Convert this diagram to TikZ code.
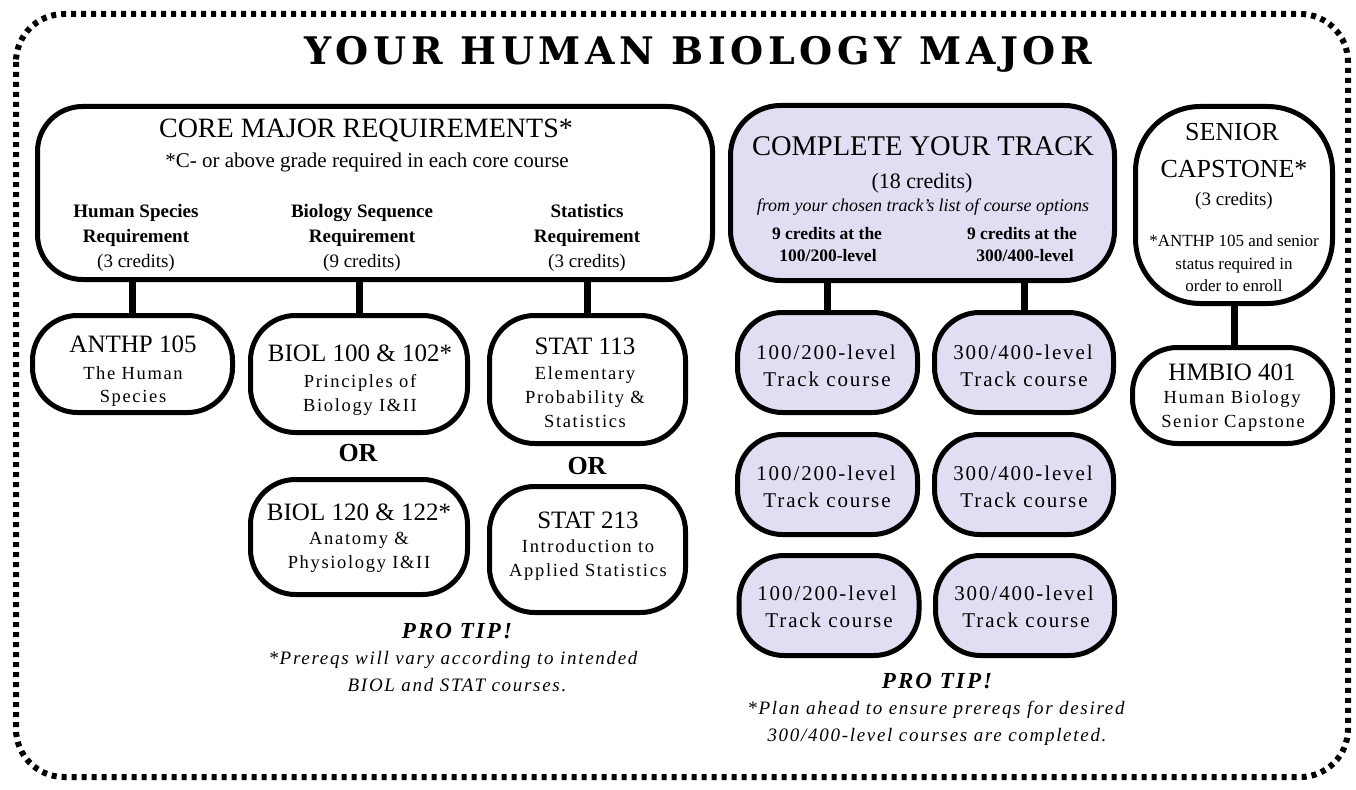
\documentclass[tikz,border=0pt]{standalone}
\usepackage{fontspec}
\setmainfont{Liberation Serif}
\newfontfamily\titlefont{DejaVu Serif}[LetterSpace=12]
\newfontfamily\headfont{Liberation Serif}
\newfontfamily\spfont{Liberation Serif}[LetterSpace=9]
\definecolor{lav}{RGB}{225,222,243}
\newcommand\fsz[1]{\fontsize{#1}{#1}\selectfont}
\tikzset{
  box/.style={draw, line width=5pt, rounded corners=45pt, fill=white, inner sep=0pt},
  lavbox/.style={box, fill=lav},
  conn/.style={line width=7pt},
  t/.style={inner sep=0pt, anchor=base},
  ctitle/.style={t, font=\fsz{25}},
  csub/.style={t, font=\spfont\fsz{18.5}},
  trk/.style={t, font=\spfont\fsz{21}},
  colb/.style={t, font=\bfseries\fsz{19}},
  colr/.style={t, font=\fsz{19}},
  ortxt/.style={t, font=\bfseries\fsz{26}},
  protip/.style={t, font=\spfont\bfseries\itshape\fsz{23}},
  tipline/.style={t, font=\spfont\itshape\fsz{19}},
}
\begin{document}
\begin{tikzpicture}[x=1pt,y=-1pt]
\useasboundingbox (0,0) rectangle (1356,789);
% outer dotted frame
\draw[line width=6pt, dash pattern=on 5pt off 5pt, rounded corners=48pt] (16,14) rectangle (1348,777);

\node[t] (title) at (698,65) {\titlefont\bfseries\fsz{38}YOUR HUMAN BIOLOGY MAJOR};

% ---------- core ----------
\node[box, minimum width=675pt, minimum height=173pt] (core) at (375,193) {};
\node[t, font=\headfont\fsz{28}] (coreh) at (366,138) {CORE MAJOR REQUIREMENTS*};
\node[t, font=\fsz{21}] (coren) at (367,167) {*C- or above grade required in each core course};
\node[colb] (c1a) at (136,217) {Human Species};
\node[colb] (c1b) at (136,242) {Requirement};
\node[colr] (c1c) at (136,267) {(3 credits)};
\node[colb] (c2a) at (362,217) {Biology Sequence};
\node[colb] (c2b) at (362,242) {Requirement};
\node[colr] (c2c) at (362,267) {(9 credits)};
\node[colb] (c3a) at (587,217) {Statistics};
\node[colb] (c3b) at (587,242) {Requirement};
\node[colr] (c3c) at (587,267) {(3 credits)};

\node[box, minimum width=200pt, minimum height=97pt] (anthp) at (132.5,364) {};
\node[box, minimum width=217pt, minimum height=117pt] (biolA) at (359,374) {};
\node[box, minimum width=217pt, minimum height=115pt] (biolB) at (359,537) {};
\node[box, minimum width=196pt, minimum height=128pt] (statA) at (587.5,379.5) {};
\node[box, minimum width=196pt, minimum height=126pt] (statB) at (587.5,549.5) {};

\draw[conn] (core.south -| anthp.north) -- (anthp.north);
\draw[conn] (core.south -| biolA.north) -- (biolA.north);
\draw[conn] (core.south -| statA.north) -- (statA.north);

\node[ctitle] (anthpa) at (133,352) {ANTHP 105};
\node[csub] (anthpb) at (133,379) {The Human};
\node[csub] (anthpc) at (133,402) {Species};

\node[ctitle] (biolAa) at (360,361) {BIOL 100 \& 102*};
\node[csub] (biolAb) at (360,387) {Principles of};
\node[csub] (biolAc) at (360,411) {Biology I\&II};
\node[ortxt] (or1) at (358,461) {OR};
\node[ctitle] (biolBa) at (359,520) {BIOL 120 \& 122*};
\node[csub] (biolBb) at (359,544) {Anatomy \&};
\node[csub] (biolBc) at (359,568) {Physiology I\&II};

\node[ctitle] (statAa) at (585,354) {STAT 113};
\node[csub] (statAb) at (585,379) {Elementary};
\node[csub] (statAc) at (585,403) {Probability \&};
\node[csub] (statAd) at (585,427) {Statistics};
\node[ortxt] (or2) at (587,474) {OR};
\node[ctitle] (statBa) at (588,528) {STAT 213};
\node[csub] (statBb) at (588,552) {Introduction to};
\node[csub] (statBc) at (588,576) {Applied Statistics};

\node[protip] (tip1) at (457,638) {PRO TIP!};
\node[tipline] (tip1a) at (453,664) {*Prereqs will vary according to intended};
\node[tipline] (tip1b) at (457,691) {BIOL and STAT courses.};

% ---------- track ----------
\node[lavbox, minimum width=384pt, minimum height=175pt, rounded corners=50pt] (track) at (922.5,193) {};
\node[t, font=\headfont\fsz{28.5}] (trh) at (923,155) {COMPLETE YOUR TRACK};
\node[t, font=\fsz{22}] (trc) at (922,188) {(18 credits)};
\node[t, font=\itshape\fsz{18}] (trf) at (923,211) {from your chosen track's list of course options};
\node[t, font=\bfseries\fsz{17.5}] (trl1) at (827,239) {9 credits at the};
\node[t, font=\bfseries\fsz{17.5}] (trl2) at (828,261) {100/200-level};
\node[t, font=\bfseries\fsz{17.5}] (trr1) at (1022,239) {9 credits at the};
\node[t, font=\bfseries\fsz{17.5}] (trr2) at (1025,261) {300/400-level};

\node[lavbox, minimum width=180pt, minimum height=100pt] (L1) at (827.5,362.5) {};
\node[lavbox, minimum width=179pt, minimum height=100pt] (R1) at (1024,362.5) {};
\node[lavbox, minimum width=180pt, minimum height=100pt] (L2) at (827.5,484.5) {};
\node[lavbox, minimum width=179pt, minimum height=100pt] (R2) at (1024,484.5) {};
\node[lavbox, minimum width=180pt, minimum height=100pt] (L3) at (829,605.5) {};
\node[lavbox, minimum width=179pt, minimum height=100pt] (R3) at (1025,605.5) {};

\draw[conn] (track.south -| L1.north) -- (L1.north);
\draw[conn] (track.south -| R1.north) -- (R1.north);

\node[trk] (L1a) at (826,359) {100/200-level};
\node[trk] (L1b) at (827,386) {Track course};
\node[trk] (R1a) at (1023,359) {300/400-level};
\node[trk] (R1b) at (1024,386) {Track course};
\node[trk] (L2a) at (826,480) {100/200-level};
\node[trk] (L2b) at (827,507) {Track course};
\node[trk] (R2a) at (1023,480) {300/400-level};
\node[trk] (R2b) at (1024,507) {Track course};
\node[trk] (L3a) at (827,600) {100/200-level};
\node[trk] (L3b) at (829,627) {Track course};
\node[trk] (R3a) at (1024,600) {300/400-level};
\node[trk] (R3b) at (1026,627) {Track course};

\node[protip] (tip2) at (937,688) {PRO TIP!};
\node[tipline] (tip2a) at (936,714) {*Plan ahead to ensure prereqs for desired};
\node[tipline] (tip2b) at (937,741) {300/400-level courses are completed.};

% ---------- senior ----------
\node[box, minimum width=197pt, minimum height=197pt, rounded corners=65pt] (senior) at (1234,205) {};
\node[box, minimum width=200pt, minimum height=96pt] (hmbio) at (1232.5,395.5) {};
\draw[conn] (senior.south) -- (hmbio.north -| senior.south);

\node[t, font=\headfont\fsz{26}] (sena) at (1232,140) {SENIOR};
\node[t, font=\headfont\fsz{26}] (senb) at (1234,177) {CAPSTONE*};
\node[t, font=\fsz{19}] (senc) at (1234,205) {(3 credits)};
\node[t, font=\fsz{17}] (send) at (1234,246) {*ANTHP 105 and senior};
\node[t, font=\fsz{17}] (sene) at (1234,269) {status required in};
\node[t, font=\fsz{17}] (senf) at (1234,291) {order to enroll};

\node[ctitle] (hmbioa) at (1232,380) {HMBIO 401};
\node[csub] (hmbiob) at (1232,403) {Human Biology};
\node[csub] (hmbioc) at (1233,427) {Senior Capstone};
\end{tikzpicture}
\end{document}
